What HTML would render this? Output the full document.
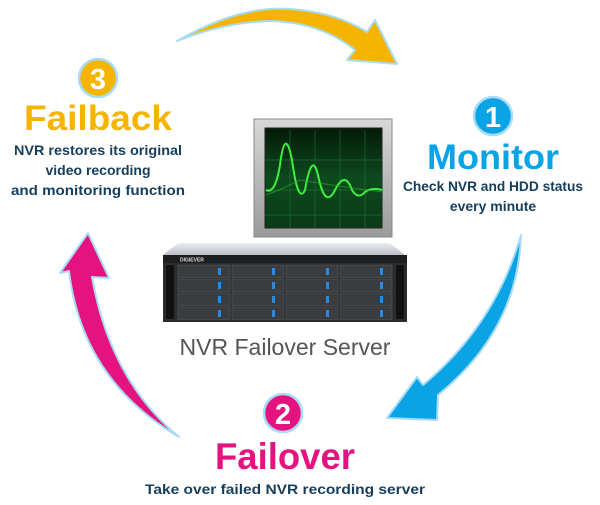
<!DOCTYPE html>
<html><head><meta charset="utf-8"><style>
html,body{margin:0;padding:0;background:#fff;}
body{width:600px;height:500px;overflow:hidden;position:relative;font-family:"Liberation Sans","DejaVu Sans",sans-serif;}
</style></head><body>
<svg width="600" height="500" viewBox="0 0 600 500" xmlns="http://www.w3.org/2000/svg">
<defs>
<linearGradient id="scr" x1="0" y1="0" x2="0" y2="1"><stop offset="0" stop-color="#041a08"/><stop offset="0.5" stop-color="#0d4a1e"/><stop offset="1" stop-color="#0a3a16"/></linearGradient>
<linearGradient id="bez" x1="0" y1="0" x2="0" y2="1"><stop offset="0" stop-color="#d8d8d8"/><stop offset="1" stop-color="#9a9a9a"/></linearGradient>
<linearGradient id="lid" x1="0" y1="0" x2="0" y2="1"><stop offset="0" stop-color="#eceff2"/><stop offset="1" stop-color="#b9bec4"/></linearGradient>
</defs>
<!-- yellow arrow -->
<path d="M177,41 Q240,5 290,9 Q335,12 367,32 L375,20 L397,64 L347,60 L355,50 Q320,22 270,21 Q225,22 177,41 Z" fill="#f5b400" stroke="#a8dcf5" stroke-width="2" stroke-linejoin="round"/>
<!-- blue arrow -->
<path d="M521,235 Q518,330 438,395 L437,420 L387,418 L417,377 L423,385 Q495,325 521,235 Z" fill="#0aa3e6" stroke="#a8dcf5" stroke-width="2" stroke-linejoin="round"/>
<!-- pink arrow -->
<path d="M179,437 Q110,380 92,277 L109,278 L88,233 L60,273 L69,271 Q82,380 179,437 Z" fill="#e5137f" stroke="#a8dcf5" stroke-width="2" stroke-linejoin="round"/>

<!-- monitor -->
<rect x="254" y="119" width="138" height="118" fill="url(#bez)" stroke="#888" stroke-width="1"/>
<rect x="265" y="128" width="117" height="100" fill="url(#scr)" stroke="#222"/>
<g stroke="#1f7a35" stroke-width="0.7" opacity="0.8">
<line x1="265" y1="160" x2="382" y2="160"/><line x1="265" y1="190" x2="382" y2="190"/><line x1="265" y1="215" x2="382" y2="215"/>
<line x1="290" y1="130" x2="290" y2="228"/><line x1="315" y1="130" x2="315" y2="228"/><line x1="340" y1="130" x2="340" y2="228"/><line x1="365" y1="130" x2="365" y2="228"/>
</g>
<path d="M266,190 Q275,195 280,165 Q285,125 292,160 Q298,205 305,190 Q312,150 318,175 Q325,210 335,190 Q345,170 352,190 Q358,200 365,192 Q372,187 382,190" fill="none" stroke="#3ef03e" stroke-width="2"/>
<path d="M266,195 Q280,190 300,180 Q330,185 382,192" fill="none" stroke="#2bb02b" stroke-width="1" opacity="0.6"/>

<!-- server -->
<polygon points="178,243 390,243 405,255 163,255" fill="url(#lid)"/>
<rect x="163" y="255" width="244" height="67" fill="#2a2c2e"/>
<rect x="163" y="255" width="244" height="8" fill="#1d1e20"/>
<text x="180" y="261.5" font-size="5" font-weight="bold" fill="#ddd">DIGIEVER</text>
<rect x="166" y="265" width="8" height="54" rx="2" fill="#111"/>
<rect x="396" y="265" width="8" height="54" rx="2" fill="#111"/>
<g id="bays">
</g>
<g fill="#3a3c3f" stroke="#555" stroke-width="0.6">
<rect x="178" y="265" width="52" height="12.5"/><rect x="232" y="265" width="52" height="12.5"/><rect x="286" y="265" width="52" height="12.5"/><rect x="340" y="265" width="52" height="12.5"/>
<rect x="178" y="279" width="52" height="12.5"/><rect x="232" y="279" width="52" height="12.5"/><rect x="286" y="279" width="52" height="12.5"/><rect x="340" y="279" width="52" height="12.5"/>
<rect x="178" y="293" width="52" height="12.5"/><rect x="232" y="293" width="52" height="12.5"/><rect x="286" y="293" width="52" height="12.5"/><rect x="340" y="293" width="52" height="12.5"/>
<rect x="178" y="307" width="52" height="12.5"/><rect x="232" y="307" width="52" height="12.5"/><rect x="286" y="307" width="52" height="12.5"/><rect x="340" y="307" width="52" height="12.5"/>
</g>
<g fill="#2a8ae0">
<rect x="218" y="268" width="3" height="7"/><rect x="272" y="268" width="3" height="7"/><rect x="326" y="268" width="3" height="7"/><rect x="380" y="268" width="3" height="7"/>
<rect x="218" y="282" width="3" height="7"/><rect x="272" y="282" width="3" height="7"/><rect x="326" y="282" width="3" height="7"/><rect x="380" y="282" width="3" height="7"/>
<rect x="218" y="296" width="3" height="7"/><rect x="272" y="296" width="3" height="7"/><rect x="326" y="296" width="3" height="7"/><rect x="380" y="296" width="3" height="7"/>
<rect x="218" y="310" width="3" height="7"/><rect x="272" y="310" width="3" height="7"/><rect x="326" y="310" width="3" height="7"/><rect x="380" y="310" width="3" height="7"/>
</g>

<text x="285" y="355" font-size="23" fill="#555" text-anchor="middle">NVR Failover Server</text>

<!-- circles -->
<circle cx="98" cy="78" r="19" fill="#f5b400" stroke="#a8dcf5" stroke-width="2.5"/>
<text x="98" y="89" font-size="29" font-weight="bold" fill="#fff" text-anchor="middle">3</text>
<circle cx="493" cy="116" r="19" fill="#0aa3e6" stroke="#a8dcf5" stroke-width="2.5"/>
<text x="493" y="127" font-size="29" font-weight="bold" fill="#fff" text-anchor="middle">1</text>
<circle cx="283" cy="413" r="19" fill="#e5137f" stroke="#a8dcf5" stroke-width="2.5"/>
<text x="283" y="424" font-size="29" font-weight="bold" fill="#fff" text-anchor="middle">2</text>

<text x="98" y="130" font-size="35" font-weight="bold" fill="#f5b400" text-anchor="middle" textLength="148" lengthAdjust="spacingAndGlyphs">Failback</text>
<g font-size="14" font-weight="bold" fill="#153d5c" text-anchor="middle">
<text x="98" y="155" textLength="168" lengthAdjust="spacingAndGlyphs">NVR restores its original</text>
<text x="98" y="175">video recording</text>
<text x="98" y="195" textLength="174" lengthAdjust="spacingAndGlyphs">and monitoring function</text>
<text x="493" y="191" textLength="180" lengthAdjust="spacingAndGlyphs">Check NVR and HDD status</text>
<text x="493" y="211">every minute</text>
<text x="285" y="494" textLength="280" lengthAdjust="spacingAndGlyphs">Take over failed NVR recording server</text>
</g>
<text x="493" y="169" font-size="35" font-weight="bold" fill="#0aa3e6" text-anchor="middle" textLength="132" lengthAdjust="spacingAndGlyphs">Monitor</text>
<text x="285" y="469" font-size="37" font-weight="bold" fill="#e5137f" text-anchor="middle" textLength="140" lengthAdjust="spacingAndGlyphs">Failover</text>
</svg>
</body></html>
